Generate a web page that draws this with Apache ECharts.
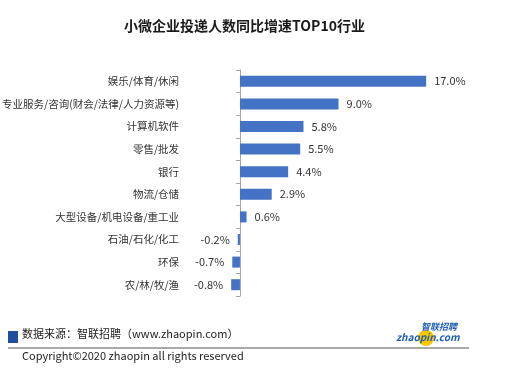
<!DOCTYPE html>
<html>
<head>
<meta charset="utf-8">
<script src="https://cdn.jsdelivr.net/npm/echarts@6/dist/echarts.min.js"></script>
<style>
  html, body { margin: 0; padding: 0; background: #fff; }
  #chart { width: 505px; height: 375px; }
</style>
</head>
<body>
<div id="chart"></div>
<script>
var industries = ['娱乐/体育/休闲', '专业服务/咨询(财会/法律/人力资源等)', '计算机软件', '零售/批发', '银行',
  '物流/仓储', '大型设备/机电设备/重工业', '石油/石化/化工', '环保', '农/林/牧/渔'];
var growth = [17.0, 9.0, 5.8, 5.5, 4.4, 2.9, 0.6, -0.2, -0.7, -0.8];

var chart = echarts.init(document.getElementById('chart'));

var font = '"Noto Sans CJK SC", "Noto Sans", sans-serif';

var option = {
  backgroundColor: '#fff',
  animation: false,
  title: {
    text: '小微企业投递人数同比增速TOP10行业',
    left: 119,
    top: 14,
    textStyle: { fontSize: 14, fontWeight: 'bold', color: '#1a1a1a', fontFamily: font }
  },
  grid: { left: 229, top: 70, width: 230, height: 226, outerBoundsMode: 'none', containLabel: false },
  xAxis: {
    type: 'value',
    min: -1,
    max: 20,
    show: false,
    splitLine: { show: false }
  },
  yAxis: {
    type: 'category',
    inverse: true,
    data: industries,
    axisLine: { onZero: true, lineStyle: { color: '#a6a6a6', width: 1 } },
    axisTick: { show: true, length: 4, lineStyle: { color: '#a6a6a6' } },
    axisLabel: { margin: 50, color: '#333', fontSize: 10.5, fontFamily: font }
  },
  series: [{
    type: 'bar',
    barWidth: 11,
    itemStyle: { color: '#4472C4' },
    label: {
      show: true,
      distance: 8,
      color: '#333',
      fontSize: 11,
      fontFamily: font,
      formatter: function (p) { return p.value.toFixed(1) + '%'; }
    },
    data: growth.map(function (v) {
      return { value: v, label: { position: v < 0 ? 'left' : 'right' } };
    })
  }],
  graphic: [
    { type: 'rect', shape: { x: 8, y: 331, width: 10, height: 12 }, style: { fill: '#1f4e9c' } },
    { type: 'text', left: 22, top: 328, style: { text: '数据来源：智联招聘（www.zhaopin.com）', fontSize: 11, fill: '#222', fontFamily: font } },
    { type: 'line', shape: { x1: 8, y1: 348, x2: 469, y2: 348 }, style: { stroke: '#555', lineWidth: 1 } },
    { type: 'text', left: 22, top: 350, style: { text: 'Copyright©2020 zhaopin all rights reserved', fontSize: 11, fill: '#222', fontFamily: font } },
    { type: 'circle', shape: { cx: 426, cy: 338, r: 8 }, style: { fill: '#f7c600' } },
    { type: 'text', left: 421, top: 322, style: { text: '智联招聘', fontSize: 9, fontWeight: 'bold', fontStyle: 'italic', fill: '#1f5fb5', fontFamily: font } },
    { type: 'text', left: 396, top: 332, style: { text: 'zhaopin.com', fontSize: 10, fontWeight: 'bold', fontStyle: 'italic', fill: '#1f5fb5', fontFamily: font } }
  ]
};

chart.setOption(option);
</script>
</body>
</html>
